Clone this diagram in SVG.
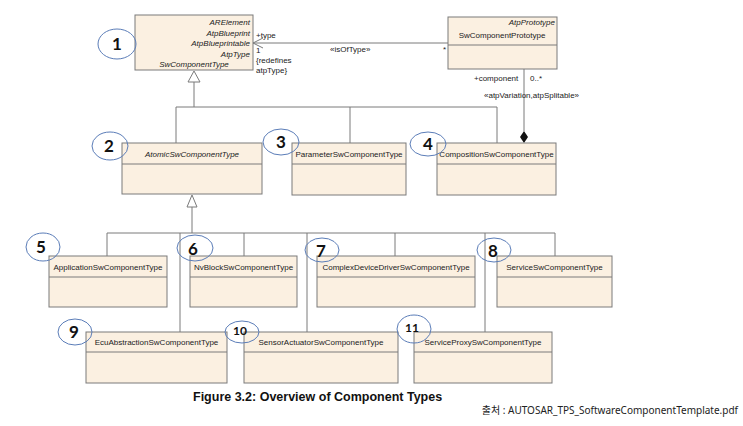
<svg xmlns="http://www.w3.org/2000/svg" width="743" height="426" viewBox="0 0 743 426">
<style>
.box{fill:#FBF0E1;stroke:#7a7a7a;stroke-width:1}
.sep{stroke:#7a7a7a;stroke-width:1}
.t{font-family:"Liberation Sans",Arial,sans-serif;font-size:8px;fill:#222}
.tm{text-anchor:middle}
.te{text-anchor:end}
.it{font-style:italic}
.ln{stroke:#7a7a7a;stroke-width:1;fill:none}
.tri{fill:#fff;stroke:#7a7a7a;stroke-width:1}
.c{fill:none;stroke:#5b7db8;stroke-width:1}
.n{font-family:Lato,"Liberation Sans",sans-serif;font-weight:bold;font-size:17px;fill:#111;text-anchor:middle}
.ns{font-size:12px}
</style>
<rect width="743" height="426" fill="#fff"/>
<g id="connectors">
  <path class="ln" d="M448,43 H253 M263,38 L253,43 L263,48"/>
  <path class="ln" d="M524,69 V131"/>
  <polygon points="524,131 528,137 524,143 520,137" fill="#111"/>
  <polygon class="tri" points="194,71 200,82 188,82"/>
  <path class="ln" d="M194,82 V107 M176,107 H497 M176,107 V143 M350,107 V143 M497,107 V143"/>
  <polygon class="tri" points="192,195 197,207 187,207"/>
  <path class="ln" d="M192,207 V233 M107,233 H555 M107,233 V256 M244,233 V256 M395,233 V256 M555,233 V256 M180,233 V332 M307,233 V332 M485,233 V332"/>
  <text class="t" x="256" y="38">+type</text>
  <text class="t" x="256" y="53">1</text>
  <text class="t" x="256" y="63">{redefines</text>
  <text class="t" x="256" y="73">atpType}</text>
  <text class="t" x="330" y="52">«isOfType»</text>
  <text class="t" x="443" y="52">*</text>
  <text class="t" x="474" y="81">+component</text>
  <text class="t" x="530" y="81">0..*</text>
  <text class="t" x="484" y="98">«atpVariation,atpSplitable»</text>
</g>
<g id="SwComponentType">
  <rect class="box" x="135" y="15" width="118" height="55"/>
  <text class="t te it" x="250" y="25">ARElement</text>
  <text class="t te it" x="250" y="35.5">AtpBlueprint</text>
  <text class="t te it" x="250" y="46">AtpBlueprintable</text>
  <text class="t te it" x="250" y="56.5">AtpType</text>
  <text class="t tm it" x="194" y="67">SwComponentType</text>
</g>
<g id="SwComponentPrototype">
  <rect class="box" x="448" y="17" width="109" height="52"/>
  <line class="sep" x1="448" y1="45" x2="557" y2="45"/>
  <text class="t te it" x="555" y="25">AtpPrototype</text>
  <text class="t tm" x="502" y="38">SwComponentPrototype</text>
</g>
<g id="AtomicSwComponentType">
  <rect class="box" x="122" y="143" width="140" height="51"/>
  <line class="sep" x1="122" y1="164" x2="262" y2="164"/>
  <text class="t tm it" x="192" y="157">AtomicSwComponentType</text>
</g>
<g id="ParameterSwComponentType">
  <rect class="box" x="292" y="143" width="114" height="52"/>
  <line class="sep" x1="292" y1="164" x2="406" y2="164"/>
  <text class="t tm" x="349" y="157">ParameterSwComponentType</text>
</g>
<g id="CompositionSwComponentType">
  <rect class="box" x="437" y="143" width="119" height="52"/>
  <line class="sep" x1="437" y1="164" x2="556" y2="164"/>
  <text class="t tm" x="496.5" y="157">CompositionSwComponentType</text>
</g>
<g id="ApplicationSwComponentType">
  <rect class="box" x="49" y="256" width="118" height="51"/>
  <line class="sep" x1="49" y1="277" x2="167" y2="277"/>
  <text class="t tm" x="108" y="270">ApplicationSwComponentType</text>
</g>
<g id="NvBlockSwComponentType">
  <rect class="box" x="190" y="256" width="107" height="51"/>
  <line class="sep" x1="190" y1="277" x2="297" y2="277"/>
  <text class="t tm" x="243.5" y="270">NvBlockSwComponentType</text>
</g>
<g id="ComplexDeviceDriverSwComponentType">
  <rect class="box" x="317" y="256" width="158" height="51"/>
  <line class="sep" x1="317" y1="277" x2="475" y2="277"/>
  <text class="t tm" x="396" y="270">ComplexDeviceDriverSwComponentType</text>
</g>
<g id="ServiceSwComponentType">
  <rect class="box" x="497" y="256" width="115" height="51"/>
  <line class="sep" x1="497" y1="277" x2="612" y2="277"/>
  <text class="t tm" x="554.5" y="270">ServiceSwComponentType</text>
</g>
<g id="EcuAbstractionSwComponentType">
  <rect class="box" x="86" y="332" width="141" height="51"/>
  <line class="sep" x1="86" y1="352" x2="227" y2="352"/>
  <text class="t tm" x="156.5" y="345">EcuAbstractionSwComponentType</text>
</g>
<g id="SensorActuatorSwComponentType">
  <rect class="box" x="244" y="332" width="154" height="51"/>
  <line class="sep" x1="244" y1="352" x2="398" y2="352"/>
  <text class="t tm" x="321" y="345">SensorActuatorSwComponentType</text>
</g>
<g id="ServiceProxySwComponentType">
  <rect class="box" x="414" y="332" width="138" height="51"/>
  <line class="sep" x1="414" y1="352" x2="552" y2="352"/>
  <text class="t tm" x="483" y="345">ServiceProxySwComponentType</text>
</g>
<g id="markers">
  <ellipse class="c" cx="117" cy="44" rx="19" ry="15"/><text class="n" x="117" y="50">1</text>
  <ellipse class="c" cx="110" cy="146" rx="18" ry="14"/><text class="n" x="109" y="152">2</text>
  <ellipse class="c" cx="281" cy="142" rx="18" ry="13"/><text class="n" x="281" y="148">3</text>
  <ellipse class="c" cx="428" cy="144" rx="18" ry="12"/><text class="n" x="428" y="150" font-weight="normal">4</text>
  <ellipse class="c" cx="43" cy="247" rx="17" ry="14"/><text class="n" x="41" y="253">5</text>
  <ellipse class="c" cx="195" cy="248" rx="18" ry="13"/><text class="n" x="193" y="255">6</text>
  <ellipse class="c" cx="322" cy="250" rx="17" ry="12"/><text class="n" x="321" y="257">7</text>
  <ellipse class="c" cx="494" cy="250" rx="17" ry="12"/><text class="n" x="493" y="257">8</text>
  <ellipse class="c" cx="75" cy="332" rx="17" ry="13"/><text class="n" x="74" y="338">9</text>
  <ellipse class="c" cx="242" cy="332" rx="17" ry="11"/><text class="n ns" x="240" y="335">10</text>
  <ellipse class="c" cx="414" cy="329" rx="17" ry="14"/><text class="n ns" x="412" y="332">11</text>
</g>
<text x="193" y="401" font-family="'Liberation Sans',Arial,sans-serif" font-weight="bold" font-size="12.5" fill="#111">Figure 3.2: Overview of Component Types</text>
<text x="738" y="414" text-anchor="end" font-family="'Noto Sans','Noto Sans CJK KR',sans-serif" font-size="10" fill="#222">출처 : AUTOSAR_TPS_SoftwareComponentTemplate.pdf</text>
</svg>
